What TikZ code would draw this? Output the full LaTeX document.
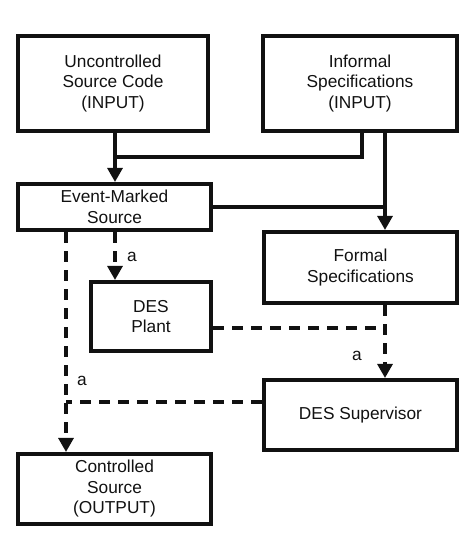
\documentclass[tikz,border=0pt]{standalone}
\usepackage{fontspec}
\setmainfont{Liberation Sans}
\usepackage{xcolor}
\definecolor{cLine}{HTML}{111111}
\usepackage{tikz}
\usetikzlibrary{positioning,arrows.meta,calc}
\tikzset{
  node-block/.style={draw=cLine,line width=3.6pt,minimum width=193.5pt,
    minimum height=70.5pt,align=center,text=cLine,
    font=\fontsize{17.3}{20.5}\selectfont},
  node-label/.style={inner sep=0pt,text=cLine,
    font=\fontsize{17.3}{20.5}\selectfont},
  link/.style={line width=3.1pt,draw=cLine},
  arrow/.style={link,-{Triangle[length=14pt,width=15pt]}},
  link-dashed/.style={link,dash pattern=on 11pt off 8pt},
  arrow-dashed/.style={link-dashed,-{Triangle[length=14pt,width=15pt]}},
}
\begin{document}
\begin{tikzpicture}[x=1pt,y=-1pt]
  \useasboundingbox (0,0) rectangle (474,545);
  % inputs
  \node[node-block,minimum width=190.5pt,minimum height=95.5pt] (uncontrolled)
    at (113,83.5) {Uncontrolled\\Source Code\\(INPUT)};
  \node[node-block,minimum width=194.5pt,minimum height=95.5pt] (informal)
    at (360,83.5) {Informal\\Specifications\\(INPUT)};
  % middle
  \node[node-block,minimum height=46.5pt] (eventsrc)
    at (114.5,207) {Event-Marked\\Source};
  \node[node-block,minimum height=71.5pt] (formal)
    at (360.5,267.5) {Formal\\Specifications};
  \node[node-block,minimum width=120.5pt,minimum height=69.5pt] (plant)
    at (151,316.5) {DES\\Plant};
  \node[node-block] (supervisor) at (360.5,415) {DES Supervisor};
  % output
  \node[node-block] (controlled)
    at (114.5,489) {Controlled\\Source\\(OUTPUT)};
  % routing helpers
  \coordinate (spine) at (385,0);
  \coordinate (lft) at (66,0);
  \coordinate (join1) at (115,157);
  \coordinate (rowp) at (0,328);
  \coordinate (rows) at (0,402);
  % solid flow
  \draw[arrow] (uncontrolled.south -| join1) -- (eventsrc.north -| join1);
  \draw[link]  ([xshift=2pt]informal.south) |- (join1);
  \draw[arrow] (informal.south -| spine) -- (formal.north -| spine);
  \draw[link]  (eventsrc.east) -- (eventsrc.east -| spine);
  % dashed flow
  \draw[arrow-dashed] (eventsrc.south -| lft) -- (controlled.north -| lft);
  \draw[arrow-dashed] (eventsrc.south -| join1) -- (plant.north -| join1);
  \draw[arrow-dashed] (formal.south -| spine) -- (supervisor.north -| spine);
  \draw[link-dashed]  (plant.east |- rowp) -- (spine |- rowp);
  \draw[link-dashed]  (supervisor.west |- rows) -- (lft |- rows);
  % labels
  \node[node-label] (lbl-plant) at (132,257) {a};
  \node[node-label] (lbl-super) at (357,356) {a};
  \node[node-label] (lbl-out) at (82,381) {a};
\end{tikzpicture}
\end{document}
